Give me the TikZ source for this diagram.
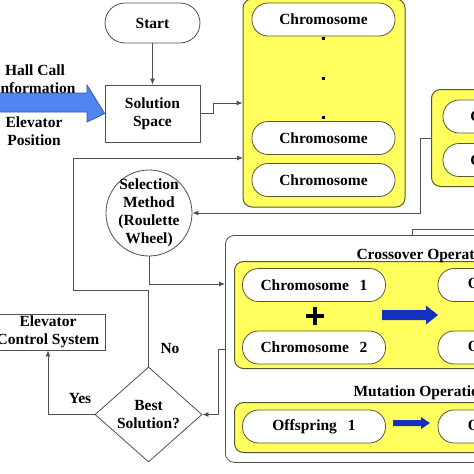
\documentclass[tikz,border=0pt]{standalone}
\usepackage{fontspec}
\setmainfont{Liberation Serif}
\usetikzlibrary{arrows.meta,shapes.geometric,calc}
\definecolor{yel}{HTML}{FFFF5E}
\definecolor{olivebd}{HTML}{5A5830}
\definecolor{graybd}{HTML}{505050}
\definecolor{lblue}{HTML}{4F86F0}
\definecolor{lbluebd}{HTML}{2E5AA8}
\definecolor{dblue}{HTML}{1430BE}
\begin{document}
\begin{tikzpicture}[x=1pt,y=-1pt,
  font=\fontsize{15.5}{18}\selectfont\bfseries,
  box/.style={draw=graybd, line width=0.8pt, fill=white, align=center, inner sep=0pt},
  chrom/.style={draw=olivebd, line width=0.8pt, fill=white, rounded corners=16pt, minimum width=143pt, minimum height=33pt, inner sep=0pt},
  ybox/.style={draw=olivebd, line width=1pt, fill=yel, rounded corners=9pt, inner sep=0pt},
  arr/.style={draw=graybd, line width=0.8pt, -{Latex[length=6pt,width=5pt]}},
  ln/.style={draw=graybd, line width=0.8pt}]
\clip (0,0) rectangle (474,474);
\fill[white] (0,0) rectangle (474,474);

% left column
\node[box, rounded corners=20pt, minimum width=95pt, minimum height=40pt] (start) at (152.5,23) {Start};
\node[box, minimum width=95pt, minimum height=57pt] (sol) at (152.5,113.5) {Solution\\Space};
\node[align=center] (hall) at (35,79) {Hall Call\\Information};
\node[align=center] (elev) at (34,131) {Elevator\\Position};
\fill[lblue, draw=lbluebd, line width=0.8pt] (-5,93) -- (87,93) -- (87,85) -- (sol.west) -- (87,122) -- (87,112) -- (-5,112) -- cycle;

% population box
\node[ybox, minimum width=162pt, minimum height=208pt] (pop) at (324,103) {};
\node[chrom] (c1) at (323.5,19.5) {Chromosome};
\node[chrom] (c2) at (323.5,138) {Chromosome};
\node[chrom] (c3) at (323.5,180) {Chromosome};
\fill (321.5,36.5) rectangle (324.5,39.5);
\fill (321.5,76.5) rectangle (324.5,79.5);
\fill (321.5,115.5) rectangle (324.5,118.5);

% right partial box
\node[ybox, anchor=north west, minimum width=100pt, minimum height=97pt] (rbox) at (431,89) {};
\node[chrom] (rc1) at (514.5,116.5) {Chromosome};
\node[chrom] (rc2) at (514.5,160) {Chromosome};

% selection
\node[circle, draw=graybd, line width=0.8pt, fill=white, minimum size=86pt, inner sep=0pt,
  label={[align=center]center:{Selection\\Method\\(Roulette\\Wheel)}}] (sel) at (149,213) {};

% operators
\node[box, rounded corners=9pt, anchor=north west, minimum width=300pt, minimum height=227pt] (ops) at (225,235) {};
\node[ybox, anchor=north west, minimum width=300pt, minimum height=107pt] (cross) at (234,261) {};
\node[ybox, anchor=north west, minimum width=300pt, minimum height=50pt] (mut) at (234,402) {};
\node[anchor=base west] (crosslbl) at (353,259) {Crossover Operation};
\node[anchor=base west] (mutlbl) at (350,396) {Mutation Operation};
\node[chrom] (ch1) at (314,285) {Chromosome\hspace{0.7em}1};
\node[chrom] (ch2) at (314,347.5) {Chromosome\hspace{0.7em}2};
\node[chrom] (o1) at (509.5,285) {Offspring\hspace{0.7em}1};
\node[chrom] (o2) at (509.5,347.5) {Offspring\hspace{0.7em}2};
\node[chrom] (off1) at (314,426.5) {Offspring\hspace{0.7em}1};
\node[chrom] (mo1) at (509.5,426.5) {Offspring\hspace{0.7em}1};
\draw[line width=3.5pt] (306,316) -- (324,316) (315,307) -- (315,325);
\fill[dblue] (382,310) -- (426,310) -- (426,305.5) -- (438,315) -- (426,324.5) -- (426,320) -- (382,320) -- cycle;
\fill[dblue] (393,420) -- (421,420) -- (421,417) -- (430,423) -- (421,429) -- (421,426) -- (393,426) -- cycle;

% decision and output
\node[diamond, draw=graybd, line width=0.8pt, fill=white, minimum width=107pt, minimum height=95pt, inner sep=0pt,
  label={[align=center]center:{Best\\Solution?}}] (best) at (148.5,414.5) {};
\node[box, minimum width=114pt, minimum height=36pt] (ecs) at (48,332) {Elevator\\Control System};
\node (yes) at (80,398) {Yes};
\node (no) at (170,348) {No};

% connectors
\coordinate (loopL) at (73,290);
\coordinate (in2) at (243,158);
\coordinate (opsin) at (225,284);
\coordinate (trfar) at (480,229);
\coordinate (opstop) at (412,235);
\draw[arr] (start) -- (sol);
\draw[arr] (sol.east) -- ++(13,0) |- (pop.west);
\draw[arr] (best.north) |- (loopL) |- (in2);
\draw[arr] (rbox.west) -- ++(-11,0) |- (sel.east);
\draw[arr] (sel.south) |- (opsin);
\draw[arr] (ops.west) -- ++(-7,0) |- (best.east);
\draw[arr] (best.west) -| (ecs.south);
\draw[ln] (trfar) -| (opstop);
\end{tikzpicture}
\end{document}
